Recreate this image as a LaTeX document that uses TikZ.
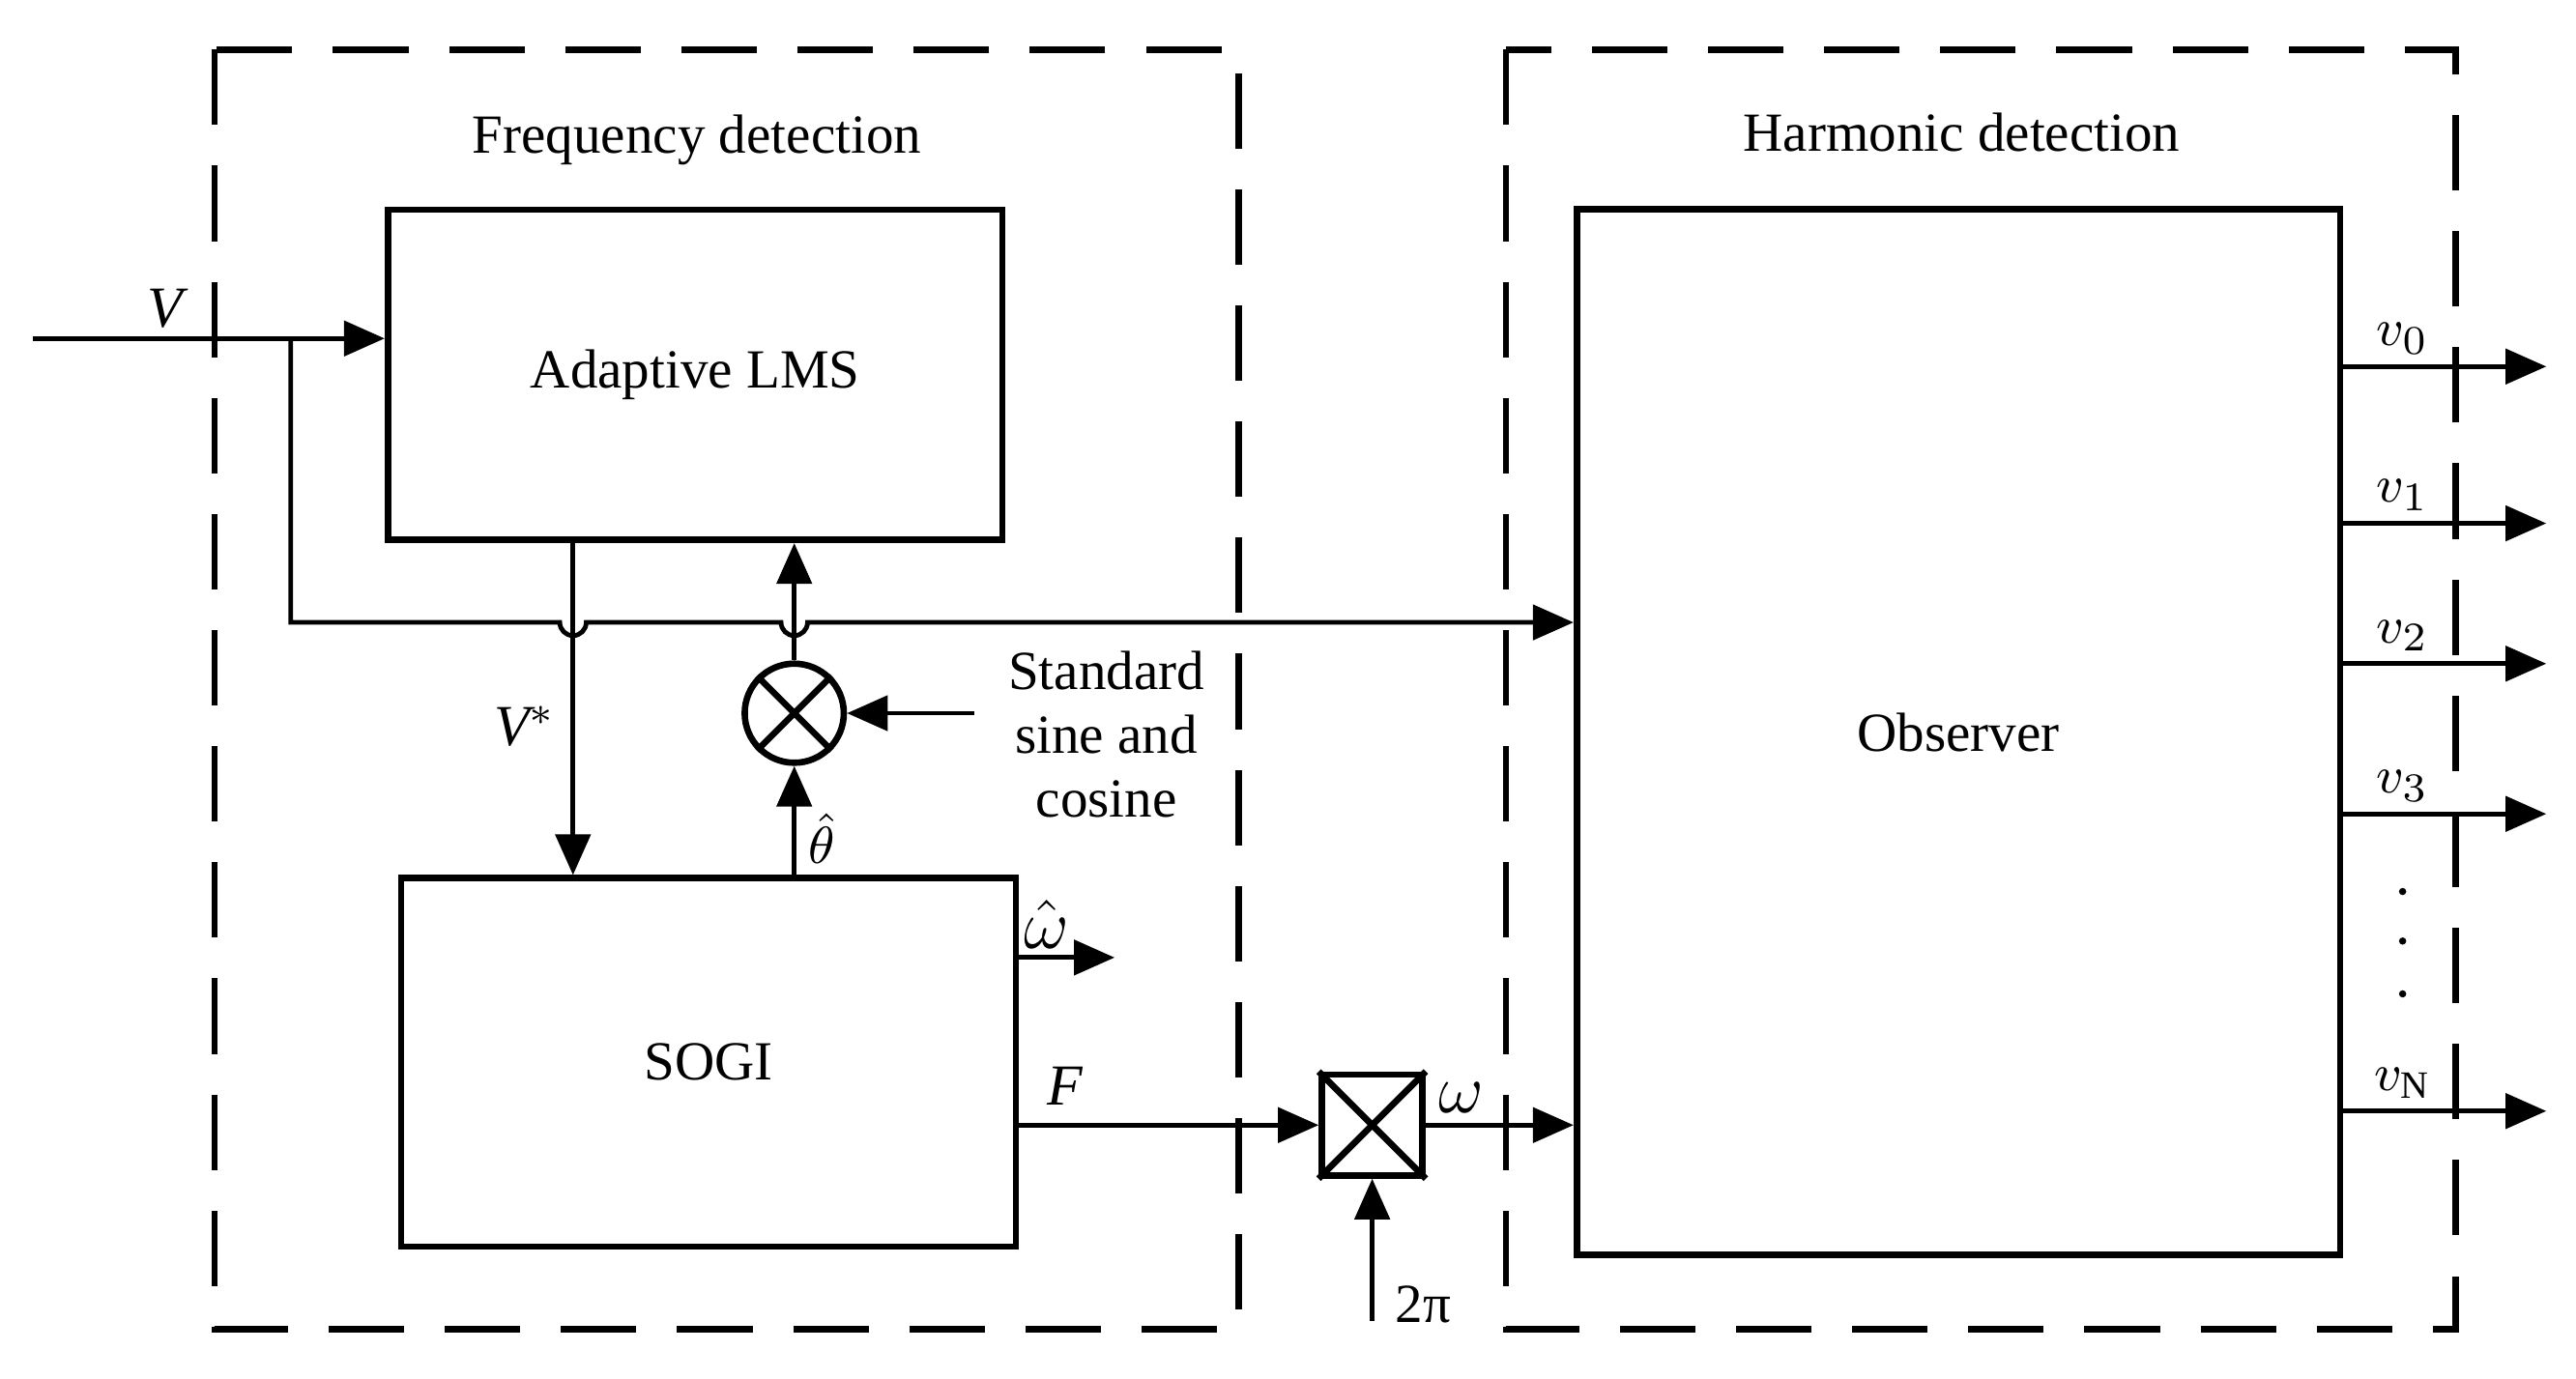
\documentclass[tikz,border=0pt]{standalone}
\usepackage{fontspec}
\setmainfont{Liberation Serif}
\usetikzlibrary{arrows.meta}
\begin{document}
\begin{tikzpicture}[x=0.01cm,y=-0.01cm,
  blk/.style={draw,line width=1.1pt,inner sep=0,font=\fontsize{9.5}{11}\selectfont},
  dbox/.style={draw,line width=1.1pt,dash pattern=on 13pt off 7pt},
  ln/.style={line width=0.8pt},
  arr/.style={ln,-{Triangle[length=7pt,width=6pt]}},
  lbl/.style={font=\fontsize{9.5}{11}\selectfont},
  ilbl/.style={font=\fontsize{10}{11}\selectfont\itshape}]
\useasboundingbox (0,0) rectangle (1560,835);
% dashed regions
\draw[dbox] (130,30) rectangle (750,805);
\draw[dbox] (912,30) rectangle (1487,805);
\node[lbl] (fd) at (422,85) {Frequency detection};
\node[lbl] (hd) at (1188,80) {Harmonic detection};
% blocks
\node[blk,minimum width=3.72cm,minimum height=2cm] (lms) at (421,227) {Adaptive LMS};
\node[blk,minimum width=3.72cm,minimum height=2.23cm] (sogi) at (429,643.5) {SOGI};
\node[blk,minimum width=4.62cm,minimum height=6.33cm] (obs) at (1186,443.5) {Observer};
% multiplier circle
\node[draw,circle,line width=1.1pt,minimum size=0.6cm,inner sep=0] (mul) at (481,432) {};
\draw[line width=1.1pt] (mul.north west) -- (mul.south east) (mul.north east) -- (mul.south west);
% square multiplier
\node[draw,line width=1.1pt,minimum size=0.61cm,inner sep=0] (sq) at (831,681.5) {};
\draw[line width=1.1pt] (sq.north west) -- (sq.south east) (sq.north east) -- (sq.south west);
% input
\coordinate (in) at (20,205);
\draw[arr] (in) -- (lms.west|-in);
\node[ilbl] at (100,187) {V};
% branch line with hops
\draw[ln] (176,205) -- (176,377) -- (339,377) arc[start angle=180,end angle=0,radius=8]
  -- (473,377) arc[start angle=180,end angle=0,radius=8] -- (940,377);
\draw[arr] (900,377) -- (obs.west|-900,377);
% V*
\draw[arr] (lms.south-|347,0) -- (sogi.north-|347,0);
\node[ilbl] at (310,440) {V\rlap{$^{\ast}$}};
% theta
\draw[arr] (mul.north) -- (lms.south-|mul);
\draw[arr] (sogi.north-|mul) -- (mul.south);
\node[lbl] at (498,508) {$\hat{\theta}$};
% standard sine and cosine
\coordinate (ssc) at (590,432);
\draw[arr] (ssc) -- (mul.east);
\node[lbl,align=center] at (670,445) {Standard\\sine and\\cosine};
% omega hat
\coordinate (wo) at (675,580);
\draw[arr] (sogi.east|-wo) -- (wo);
\node[font=\fontsize{12}{12}\selectfont] at (634,560) {$\hat{\omega}$};
% F
\draw[arr] (sogi.east|-sq) -- (sq.west);
\node[ilbl] at (645,658) {F};
\draw[arr] (sq.east) -- (obs.west|-sq);
\node[font=\fontsize{12}{12}\selectfont] at (885,665) {$\omega$};
\coordinate (tp) at (831,800);
\draw[arr] (tp) -- (sq.south);
\node[lbl] at (862,790) {2π};
% outputs
\foreach \y/\t in {222/0,317/1,402/2,493/3,673/\mathrm{N}}{
  \coordinate (o\y) at (1542,\y);
  \draw[arr] (obs.east|-o\y) -- (o\y);
  \node[lbl] at (1455,\y-17) {$v_{\t}$};
}
\foreach \y in {540,570,602} \fill (1455,\y) circle (2.2);
\end{tikzpicture}
\end{document}
